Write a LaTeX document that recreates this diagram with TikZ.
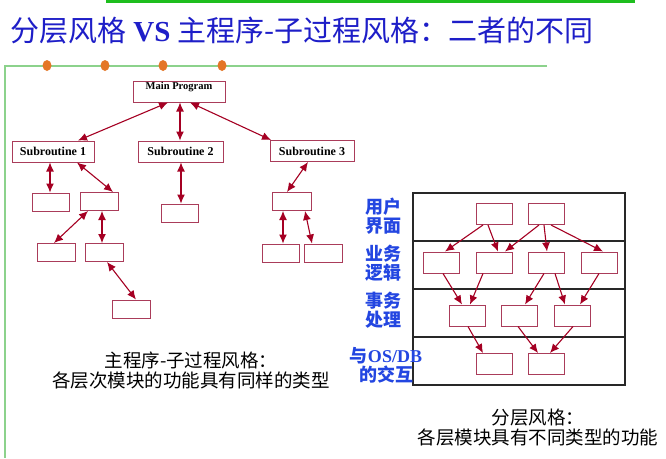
\documentclass[tikz,border=0pt]{standalone}
\usepackage{fontspec}
\setmainfont{Liberation Serif}
\newfontfamily\cjk{Noto Sans CJK SC}
\usetikzlibrary{arrows.meta}
\definecolor{titleblue}{RGB}{30,30,200}
\definecolor{labelblue}{RGB}{35,70,225}
\definecolor{boxred}{RGB}{170,60,90}
\definecolor{arrred}{RGB}{165,0,35}
\definecolor{framegreen}{RGB}{140,210,140}
\definecolor{topgreen}{RGB}{30,190,30}
\definecolor{dotorange}{RGB}{228,118,38}
\definecolor{layerline}{RGB}{40,40,40}
\tikzset{
  box/.style={draw=boxred, line width=1pt, fill=white, inner sep=0pt, minimum height=18pt, minimum width=37pt},
  bigbox/.style={box, minimum height=21pt},
  dbl/.style={draw=arrred, line width=1.1pt, {Latex[length=9pt,width=8pt]}-{Latex[length=9pt,width=8pt]}},
  sgl/.style={draw=arrred, line width=1.1pt, -{Latex[length=9pt,width=8pt]}},
  lab/.style={text=labelblue, align=center, inner sep=0pt, font=\fontsize{18}{19}\selectfont\bfseries},
  captext/.style={align=center, inner sep=0pt, font=\fontsize{18.5}{20}\selectfont\cjk}
}
\begin{document}
\begin{tikzpicture}[x=1pt,y=-1pt]
\useasboundingbox (0,0) rectangle (666,458);
\fill[white] (0,0) rectangle (666,458);
% top green bar
\coordinate (tg1) at (106,1.5);
\coordinate (tg2) at (635,1.5);
\draw[topgreen, line width=3pt] (tg1) -- (tg2);
% title
\node[anchor=west, inner sep=0pt, text=titleblue, font=\fontsize{29}{29}\selectfont] (title) at (10,30.5)
  {{\cjk 分层风格} \textbf{VS} {\cjk 主程序-子过程风格：二者的不同}};
% frame lines
\coordinate (fa) at (547,66);
\coordinate (fb) at (5,66);
\coordinate (fc) at (5,458);
\draw[framegreen, line width=2pt] (fa) -- (fb) -- (fc);
% dots
\foreach \i/\x in {1/47,2/105,3/163,4/222}
  \fill[dotorange] (\x,65.5) ellipse [x radius=4.5pt, y radius=5.5pt];

% ---- tree ----
\node[bigbox, minimum width=92pt] (mp) at (179,91.5) {};
\node[anchor=north, inner sep=0pt, font=\fontsize{10.5}{11}\selectfont\bfseries] (mpt) at (179,82.5) {Main Program};
\node[bigbox, minimum width=82pt, font=\fontsize{12}{12}\selectfont\bfseries] (s1) at (53,151.5) {Subroutine 1};
\node[bigbox, minimum width=85pt, font=\fontsize{12}{12}\selectfont\bfseries] (s2) at (180.5,151.5) {Subroutine 2};
\node[bigbox, minimum width=84pt, font=\fontsize{12}{12}\selectfont\bfseries] (s3) at (312,151) {Subroutine 3};
\node[box] (a) at (50.5,202) {};
\node[box, minimum width=38pt] (b) at (99,201.5) {};
\node[box] (c2) at (179.5,213) {};
\node[box, minimum width=39pt] (d) at (291.5,201.5) {};
\node[box] (e1) at (280.5,253) {};
\node[box, minimum width=38pt] (e2) at (323,253) {};
\node[box, minimum width=38pt] (gc) at (56,252.5) {};
\node[box, minimum width=38pt] (gd) at (104.5,252.5) {};
\node[box, minimum width=38pt] (ge) at (131,309) {};

\draw[dbl] ([xshift=-11pt]mp.south) -- ([xshift=25pt]s1.north);
\draw[dbl] ([xshift=1pt]mp.south) -- ([xshift=-0.5pt]s2.north);
\draw[dbl] ([xshift=11pt]mp.south) -- ([xshift=-41pt]s3.north);
\draw[dbl] ([xshift=-3pt]s1.south) -- ([xshift=-0.5pt]a.north);
\draw[dbl] ([xshift=24pt]s1.south) -- ([xshift=14pt]b.north);
\draw[dbl] ([xshift=0.5pt]s2.south) -- ([xshift=1.5pt]c2.north);
\draw[dbl] ([xshift=-4pt]s3.south) -- ([xshift=-4.5pt]d.north);
\draw[dbl] ([xshift=-8.5pt]d.south) -- ([xshift=2.5pt]e1.north);
\draw[dbl] ([xshift=13.5pt]d.south) -- ([xshift=-11pt]e2.north);
\draw[dbl] ([xshift=-11pt]b.south) -- ([xshift=-2pt]gc.north);
\draw[dbl] ([xshift=3pt]b.south) -- ([xshift=-2.5pt]gd.north);
\draw[dbl] ([xshift=2.5pt]gd.south) -- ([xshift=5pt]ge.north);

\node[captext] (capl) at (191,371) {主程序-子过程风格：\\各层次模块的功能具有同样的类型};

% ---- layers ----
\node[draw=layerline, line width=1.5pt, minimum width=212pt, minimum height=192pt, inner sep=0pt] (frame) at (519,289) {};
\coordinate (h1a) at (413,241); \coordinate (h1b) at (625,241);
\coordinate (h2a) at (413,289); \coordinate (h2b) at (625,289);
\coordinate (h3a) at (413,337); \coordinate (h3b) at (625,337);
\draw[layerline, line width=1.2pt] (h1a) -- (h1b);
\draw[layerline, line width=1.2pt] (h2a) -- (h2b);
\draw[layerline, line width=1.2pt] (h3a) -- (h3b);

\node[lab] (l1) at (383,216) {\cjk 用户\\\cjk 界面};
\node[lab] (l2) at (383,263) {\cjk 业务\\\cjk 逻辑};
\node[lab] (l3) at (383,310) {\cjk 事务\\\cjk 处理};
\node[lab] (l4) at (386,365) {{\cjk 与}OS/DB\\\cjk 的交互};

\tikzset{rb/.style={box, minimum width=36pt, minimum height=21pt}}
\node[rb] (u1) at (494,214) {};
\node[rb] (u2) at (546,214) {};
\node[rb] (b1) at (441,262.5) {};
\node[rb] (b2) at (494,262.5) {};
\node[rb] (b3) at (546,262.5) {};
\node[rb] (b4) at (599,262.5) {};
\node[rb] (t1) at (467,315.5) {};
\node[rb] (t2) at (519.5,315.5) {};
\node[rb] (t3) at (572.5,315.5) {};
\node[rb] (o1) at (494,364) {};
\node[rb] (o2) at (546,364) {};

\draw[sgl] ([xshift=-11pt]u1.south) -- ([xshift=4pt]b1.north);
\draw[sgl] ([xshift=-6pt]u1.south) -- ([xshift=4pt]b2.north);
\draw[sgl] ([xshift=-7pt]u2.south) -- ([xshift=11pt]b2.north);
\draw[sgl] ([xshift=-2pt]u2.south) -- ([xshift=1pt]b3.north);
\draw[sgl] ([xshift=5pt]u2.south) -- ([xshift=4pt]b4.north);
\draw[sgl] ([xshift=2pt]b1.south) -- ([xshift=-5pt]t1.north);
\draw[sgl] ([xshift=-11pt]b2.south) -- ([xshift=3pt]t1.north);
\draw[sgl] ([xshift=-2pt]b3.south) -- ([xshift=5.5pt]t2.north);
\draw[sgl] ([xshift=9pt]b3.south) -- ([xshift=-7.5pt]t3.north);
\draw[sgl] ([xshift=0pt]b4.south) -- ([xshift=7.5pt]t3.north);
\draw[sgl] ([xshift=1pt]t1.south) -- ([xshift=-11pt]o1.north);
\draw[sgl] ([xshift=-1.5pt]t2.south) -- ([xshift=-8pt]o2.north);
\draw[sgl] ([xshift=0.5pt]t3.south) -- ([xshift=4pt]o2.north);

\node[captext] (capr) at (538,427.5) {分层风格：\\各层模块具有不同类型的功能};
\end{tikzpicture}
\end{document}
